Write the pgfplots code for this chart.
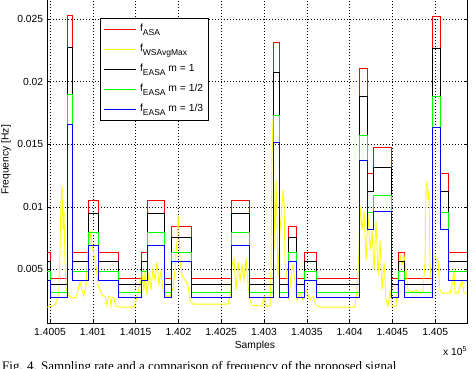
\documentclass[border=0pt]{standalone}
\usepackage{pgfplots}
\pgfplotsset{compat=1.18}
\usepackage{pgfplotstable}
\usepackage{fontspec}
\setmainfont{Liberation Sans}
\newfontfamily\capfont{Liberation Serif}

\pgfplotstableread{
x r k g b
140046.5 0.00633 0.00566 0.00481 0.00415
140051.0 0.00427 0.00379 0.00318 0.00279
140070.0 0.02530 0.02271 0.01898 0.01661
140076.5 0.00633 0.00566 0.00481 0.00415
140094.5 0.01048 0.00947 0.00792 0.00694
140106.5 0.00633 0.00566 0.00481 0.00415
140130.5 0.00427 0.00379 0.00318 0.00279
140157.0 0.00633 0.00566 0.00481 0.00415
140163.5 0.01048 0.00947 0.00792 0.00694
140184.0 0.00427 0.00379 0.00318 0.00279
140192.0 0.00846 0.00756 0.00633 0.00561
140215.5 0.00427 0.00379 0.00318 0.00279
140262.5 0.01048 0.00947 0.00792 0.00694
140283.5 0.00427 0.00379 0.00318 0.00279
140311.5 0.02310 0.02076 0.01730 0.01512
140318.0 0.00427 0.00379 0.00318 0.00279
140328.5 0.00846 0.00756 0.00633 0.00561
140338.0 0.00427 0.00379 0.00318 0.00279
140347.0 0.00633 0.00566 0.00481 0.00415
140361.5 0.00427 0.00379 0.00318 0.00279
140411.0 0.02106 0.01885 0.01573 0.01373
140420.5 0.01267 0.01126 0.00958 0.00820
140427.5 0.01475 0.01315 0.01094 0.00966
140448.5 0.00427 0.00379 0.00318 0.00279
140457.0 0.00633 0.00566 0.00481 0.00415
140463.5 0.00427 0.00379 0.00318 0.00279
140497.0 0.02524 0.02261 0.01879 0.01635
140505.5 0.01267 0.01126 0.00958 0.00820
140515.5 0.00633 0.00566 0.00481 0.00415
140537.1 0.00633 0.00566 0.00481 0.00415
}\steps

\pgfplotstableread{
x y
140046.5 0.00199
140052.3 0.00207
140055.8 0.00223
140058.2 0.00255
140060.5 0.00335
140061.7 0.00654
140062.9 0.01054
140064.0 0.01174
140065.2 0.00814
140066.4 0.00974
140067.5 0.00574
140068.7 0.00359
140071.0 0.00295
140075.7 0.00271
140080.4 0.00279
140082.7 0.00335
140085.0 0.00399
140087.4 0.00335
140089.7 0.00287
140092.1 0.00375
140094.4 0.00654
140095.6 0.00798
140096.7 0.00734
140097.9 0.00814
140099.1 0.00694
140101.4 0.00614
140103.7 0.00534
140106.1 0.00375
140108.4 0.00335
140111.9 0.00287
140114.3 0.00287
140116.6 0.00215
140117.8 0.00287
140120.1 0.00279
140121.3 0.00207
140122.4 0.00279
140124.8 0.00271
140127.1 0.00207
140131.8 0.00199
140148.1 0.00199
140150.5 0.00255
140152.8 0.00319
140155.1 0.00375
140157.5 0.00454
140159.8 0.00335
140161.0 0.00494
140163.3 0.00295
140165.7 0.00478
140168.0 0.00335
140170.3 0.00510
140172.7 0.00415
140175.0 0.00558
140177.3 0.00375
140179.7 0.00494
140182.0 0.00335
140185.5 0.00287
140190.2 0.00287
140193.7 0.00351
140196.0 0.00494
140198.4 0.00734
140199.5 0.00934
140200.7 0.00814
140201.9 0.00574
140204.2 0.00454
140207.7 0.00415
140211.2 0.00375
140213.5 0.00255
140217.1 0.00223
140257.9 0.00223
140261.4 0.00335
140262.6 0.00534
140264.9 0.00590
140267.3 0.00335
140269.6 0.00558
140272.0 0.00415
140274.3 0.00534
140276.6 0.00415
140279.0 0.00590
140281.3 0.00375
140283.6 0.00255
140286.0 0.00215
140297.7 0.00207
140300.0 0.00287
140302.3 0.00207
140307.0 0.00207
140308.2 0.00494
140309.3 0.01453
140310.5 0.01693
140311.7 0.01054
140312.8 0.00654
140314.0 0.01214
140315.2 0.00894
140316.3 0.00430
140318.7 0.00814
140321.0 0.01014
140322.2 0.01134
140323.4 0.01054
140324.5 0.00574
140326.9 0.00415
140329.2 0.00255
140331.5 0.00454
140333.9 0.00534
140336.2 0.00415
140338.5 0.00255
140342.0 0.00319
140345.5 0.00255
140349.1 0.00335
140353.7 0.00255
140357.2 0.00287
140360.7 0.00215
140365.4 0.00199
140406.3 0.00199
140408.6 0.00335
140411.0 0.00654
140412.1 0.01014
140414.5 0.00814
140416.8 0.00974
140419.2 0.00574
140421.5 0.00934
140423.8 0.00654
140426.2 0.00814
140428.5 0.00494
140430.8 0.00894
140433.2 0.00454
140435.5 0.00734
140437.8 0.00335
140440.2 0.00558
140442.5 0.00255
140444.9 0.00207
140447.2 0.00335
140449.5 0.00207
140454.2 0.00207
140456.5 0.00415
140458.9 0.00614
140461.2 0.00534
140463.5 0.00614
140465.9 0.00494
140468.2 0.00335
140472.9 0.00319
140477.6 0.00335
140482.2 0.00311
140485.7 0.00335
140488.1 0.00558
140489.2 0.01174
140490.4 0.01198
140491.6 0.01054
140492.7 0.01134
140493.9 0.00558
140496.2 0.00295
140497.4 0.00494
140498.6 0.00614
140500.9 0.00590
140503.2 0.00574
140505.6 0.00335
140507.9 0.00311
140512.6 0.00311
140517.3 0.00311
140519.6 0.00375
140521.9 0.00510
140523.1 0.00311
140526.6 0.00311
140531.3 0.00415
140533.6 0.00311
140537.1 0.00311
}\wsa

\definecolor{mred}{rgb}{1,0,0}
\definecolor{myel}{rgb}{1,1,0}
\definecolor{mgreen}{rgb}{0,1,0}
\definecolor{mblue}{rgb}{0,0,1}

\newcommand{\sub}[1]{\raisebox{-3.5pt}{\fontsize{8.5}{9}\selectfont #1}}

\begin{document}
\begin{tikzpicture}
\begin{axis}[
  scale only axis, width=420pt, height=331.9pt,
  xmin=140046.5, xmax=140537.1, ymin=0.0007, ymax=0.0272,
  scaled x ticks=false, scaled y ticks=false,
  xtick={140050,140100,140150,140200,140250,140300,140350,140400,140450,140500},
  xticklabels={1.4005,1.401,1.4015,1.402,1.4025,1.403,1.4035,1.404,1.4045,1.405},
  ytick={0.005,0.01,0.015,0.02,0.025},
  yticklabels={0.005,0.01,0.015,0.02,0.025},
  grid=major,
  grid style={black, line width=0.6pt, dash pattern=on 1.3pt off 1.7pt},
  tick align=inside, major tick length=3pt,
  tick style={black, line width=0.5pt},
  axis line style={black, line width=0.6pt},
  font=\fontsize{10.3}{12}\selectfont,
  xticklabel style={inner sep=0pt, anchor=north, yshift=-5pt},
  yticklabel style={inner sep=0pt, anchor=east, xshift=-3.7pt},
  xlabel={Samples},
  xlabel style={at={(axis description cs:0.495,0)}, anchor=north, inner sep=0pt, yshift=-17.7pt},
  ylabel={Frequency [Hz]},
  ylabel style={at={(axis description cs:-0.0976,0.492)}, anchor=center, inner sep=0pt},
  legend cell align=left,
  legend image code/.code={\draw[#1] (0pt,0pt) -- (32pt,0pt);},
  legend style={at={(axis description cs:0.126,0.919)}, anchor=north west,
    draw=black, line width=0.6pt, fill=white,
    inner xsep=3pt, inner ysep=1pt, row sep=0pt, column sep=2pt,
    font=\fontsize{10.3}{12}\selectfont,
    nodes={inner ysep=2pt, text height=10pt, text depth=6pt}},
]
\addplot[const plot, color=mred, line width=0.85pt] table[x=x, y=r] {\steps};
\addlegendentry{f\sub{ASA}}
\addplot[color=myel, line width=0.85pt] table[x=x, y=y] {\wsa};
\addlegendentry{f\sub{WSAvgMax}}
\addplot[const plot, color=black, line width=0.85pt] table[x=x, y=k] {\steps};
\addlegendentry{f\sub{EASA} m = 1}
\addplot[const plot, color=mgreen, line width=0.85pt] table[x=x, y=g] {\steps};
\addlegendentry{f\sub{EASA} m = 1/2}
\addplot[const plot, color=mblue, line width=0.85pt] table[x=x, y=b] {\steps};
\addlegendentry{f\sub{EASA} m = 1/3}
\end{axis}
\node[anchor=base west, inner sep=0pt, font=\fontsize{10.3}{12}\selectfont] at (396pt,-32.2pt) {x 10\textsuperscript{5}};
\node[anchor=base west, inner sep=0pt, font=\capfont\fontsize{13}{15}\selectfont] at (-45pt,-46.7pt) {Fig. 4. Sampling rate and a comparison of frequency of the proposed signal};
\pgfresetboundingbox
\path (-47pt,-44.7pt) rectangle (427pt,323.3pt);
\end{tikzpicture}
\end{document}
